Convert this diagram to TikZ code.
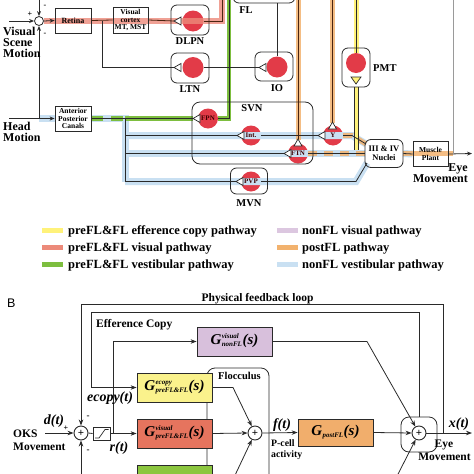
\documentclass[tikz,border=0pt]{standalone}
\usepackage{fontspec}
\setmainfont{Liberation Serif}
\setsansfont{Liberation Sans}
\usetikzlibrary{arrows.meta}
\definecolor{cRed}{HTML}{E23B48}
\definecolor{bRed}{HTML}{EC8A7A}
\definecolor{bGreen}{HTML}{7DBE3F}
\definecolor{bBlue}{HTML}{C9E0F2}
\definecolor{bOrange}{HTML}{F2B26E}
\definecolor{bYellow}{HTML}{FFF27A}
\definecolor{bLav}{HTML}{DCC7E0}
\definecolor{dk}{HTML}{2A2A2A}
\definecolor{brn}{HTML}{4A2410}
\definecolor{gry}{HTML}{9A9A9A}
\definecolor{fYel}{HTML}{FAF28C}
\definecolor{fRed}{HTML}{E6745E}
\definecolor{fGreen}{HTML}{8CC63F}
\definecolor{fLav}{HTML}{D8C0DC}
\definecolor{fOra}{HTML}{F1AE6C}
\pgfdeclarelayer{bg}
\pgfdeclarelayer{mid}
\pgfsetlayers{bg,mid,main}
\newcommand{\GG}[2]{\textbf{\textit{\fontsize{15}{15}\selectfont G}}\kern0.3pt\raisebox{-2pt}{\fontsize{7}{7}\selectfont\bfseries\itshape\begin{tabular}[b]{@{}l@{}}#1\\[1pt]#2\end{tabular}}\kern0.5pt\textbf{\textit{\fontsize{15}{15}\selectfont (s)}}}
\tikzset{
  ln/.style={draw=dk, line width=0.8pt},
  arrA/.style={ln, -{Stealth[length=5pt,width=4pt]}},
  boxA/.style={draw=dk, line width=0.8pt, inner sep=0pt, align=center, font=\fontsize{8}{8.3}\selectfont\bfseries},
  rboxA/.style={draw=dk, line width=0.8pt, rounded corners=6pt, inner sep=0pt},
  ncirc/.style={circle, fill=cRed, minimum size=20pt, inner sep=0pt},
  clbl/.style={font=\fontsize{7}{7}\selectfont\bfseries, text=black!75!red, inner sep=0pt},
  lblA/.style={font=\fontsize{10.5}{12}\selectfont\bfseries, inner sep=0pt, anchor=base},
  bigtxt/.style={font=\fontsize{12}{12}\selectfont\bfseries, inner sep=0pt, anchor=base west},
  syn/.style={draw=dk, line width=0.7pt, fill=white},
  bandR/.style={draw=bRed, line width=6pt, opacity=0.8},
  bandG/.style={draw=bGreen, line width=4.5pt},
  bandB/.style={draw=bBlue, line width=7pt},
  bandO/.style={draw=bOrange, line width=5pt, opacity=0.85},
  bandY/.style={draw=bYellow, line width=5pt},
  swatch/.style={minimum width=21pt, minimum height=5pt, inner sep=0pt},
  legtxt/.style={font=\fontsize{12.5}{13}\selectfont\bfseries, inner sep=0pt, anchor=base west},
  arrB/.style={ln, -{Stealth[length=6pt,width=4.5pt]}},
  gbox/.style={draw=dk, line width=0.8pt, inner sep=0pt, minimum width=75pt, minimum height=29pt},
  sumB/.style={circle, draw=dk, line width=0.9pt, fill=white, minimum size=14pt, inner sep=0pt, font=\fontsize{11}{11}\selectfont\bfseries},
  txtB/.style={font=\fontsize{11.5}{12}\selectfont\bfseries, inner sep=0pt},
  sigB/.style={font=\fontsize{14}{14}\selectfont\bfseries\itshape, inner sep=0pt, anchor=base},
  synL/.pic={\draw[syn] (0,0) -- (7,-4) -- (7,4) -- cycle;},
  synU/.pic={\draw[syn] (0,0) -- (-4,7) -- (4,7) -- cycle;}
}
\begin{document}
\begin{tikzpicture}[x=1pt,y=-1pt]
\useasboundingbox (0,0) rectangle (474,474);
\clip (0,0) rectangle (474,474);
% ================= PANEL A =================
\begin{pgfonlayer}{bg}
\node[ncirc, minimum size=21pt] (dlpn) at (193,21) {};
\node[ncirc, minimum size=21pt] (ltn) at (193,67.5) {};
\node[ncirc, minimum size=21pt] (io) at (277,67) {};
\node[ncirc] (pmt) at (356,63) {};
\node[ncirc] (fpn) at (208,118.5) {};
\node[ncirc] (int) at (251,135.5) {};
\node[ncirc] (ftn) at (298,153.5) {};
\node[ncirc] (yy) at (333,135.5) {};
\node[ncirc] (pvp) at (251,181.5) {};
\end{pgfonlayer}
% boxes
\node[rboxA, minimum width=62pt, minimum height=30pt] (fl) at (264,-12) {};
\node[rboxA, minimum width=38pt, minimum height=30pt] (dlpnbox) at (190,20) {};
\node[rboxA, minimum width=38pt, minimum height=30pt] (ltnbox) at (190,68) {};
\node[rboxA, minimum width=38pt, minimum height=29pt] (iobox) at (274,66.5) {};
\node[rboxA, minimum width=28pt, minimum height=39pt] (pmtbox) at (356,67.5) {};
\node[rboxA, minimum width=121pt, minimum height=62pt, rounded corners=8pt] (svn) at (252.5,133) {};
\node[rboxA, minimum width=37pt, minimum height=26pt] (pvpbox) at (249,181) {};
\node[boxA, minimum width=36pt, minimum height=25pt] (retina) at (73,20.5) {Retina};
\node[boxA, minimum width=35pt, minimum height=26pt, font=\fontsize{7.5}{7.8}\selectfont\bfseries] (vc) at (130.5,20) {Visual\\cortex\\MT, MST};
\node[boxA, minimum width=36pt, minimum height=25pt, font=\fontsize{7.5}{7.8}\selectfont\bfseries] (canals) at (73,118.5) {Anterior\\Posterior\\Canals};
\node[rboxA, minimum width=38pt, minimum height=28pt, align=center, font=\fontsize{8.5}{9}\selectfont\bfseries] (nuc) at (384,153.5) {III \& IV\\Nuclei};
\node[boxA, minimum width=35pt, minimum height=25pt, font=\fontsize{7.5}{8}\selectfont\bfseries] (muscle) at (430.5,154) {Muscle\\Plant};
\node[circle, draw=dk, line width=0.8pt, fill=white, minimum size=9pt, inner sep=0pt] (jA) at (39,21) {};
% named free ends
\coordinate (vsin) at (9,21);
\coordinate (topfb) at (39,-5);
\coordinate (hmin) at (9,118.5);
\coordinate (hmj) at (39,118.5);
\coordinate (eyeout) at (472,153.5);
% bands
\begin{pgfonlayer}{mid}
\draw[bandR] (jA.east) -- (222,21) -- (222,-5);
\draw[bandB] (hmj) -- (canals.west);
\draw[bandB] (canals.east) -- (125,118.5) -- (125,181.5);
\draw[bandB] (125,135.5) -- (352,135.5) -- (366,144);
\draw[bandB] (125,153.5) -- (nuc.west);
\draw[bandB] (125,181.5) -- (356,181.5) -- (367,163);
\draw[bandB] (nuc.east) -- (muscle.west);
\draw[bandG, dash pattern=on 12pt off 8pt] (canals.east) -- (125,118.5);
\draw[bandG] (125,118.5) -- (193,118.5);
\draw[bandG] (fpn.east) -- (229,118.5) -- (229,-5);
\draw[bandO] (298,-5) -- (298,140);
\draw[bandO] (332.5,-5) -- (332.5,123);
\draw[bandO, dash pattern=on 9pt off 7pt] (ftn.east) -- (nuc.west);
\draw[bandO, dash pattern=on 9pt off 7pt] (yy.east) -- (352,135.5) -- (366,144);
\draw[bandO] (nuc.east) -- (453,153.5);
\draw[bandY] (356,-5) -- (pmt.north);
\draw[bandY] (356,87) -- (356,150);
\end{pgfonlayer}
% dark lines
\draw[arrA] (vsin) -- (jA.west);
\draw[arrA] (topfb) -- (jA.north);
\draw[arrA] (hmin) -- (canals.west);
\draw[arrA] (hmj) -- (jA.south);
\draw[arrA] (jA.east) -- (retina.west);
\draw[ln, draw=brn] (retina.east) -- (vc.west);
\draw[ln, draw=brn] (vc.east) -- (174,21);
\draw[ln, draw=brn] (dlpn.east) -- (222,21) -- (222,-5);
\draw[ln] (102,21) -- (102,67.5) -- (174,67.5);
\draw[ln] (ltn.east) -- (259,67.5);
\draw[ln] (io.north) -- (fl.south -| io.north);
\draw[ln] (canals.east) -- (193,118.5);
\draw[ln] (fpn.east) -- (229,118.5) -- (229,-5);
\draw[ln] (125,118.5) -- (125,181.5);
\draw[ln] (125,135.5) -- (237,135.5);
\draw[ln] (int.east) -- (318,135.5);
\draw[ln] (yy.east) -- (352,135.5) -- (366,144);
\draw[ln] (125,153.5) -- (284,153.5);
\draw[ln] (ftn.east) -- (nuc.west);
\draw[ln] (125,181.5) -- (236,181.5);
\draw[ln] (pvp.east) -- (356,181.5) -- (367,163);
\draw[ln] (nuc.east) -- (muscle.west);
\draw[arrA] (muscle.east) -- (eyeout);
\draw[ln, draw=gry] (453,153.5) -- (453,-5);
\draw[ln, draw=brn] (298,-5) -- (298,139);
\draw[ln, draw=brn] (332.5,-5) -- (332.5,122);
\draw[line width=0.5pt, draw=dk] (356,-5) -- (pmt.north);
\draw[line width=0.6pt, draw=dk] (354,87) -- (354,150) (358,87) -- (358,150);
% synapse triangles
\pic at (174,21) {synL};
\pic at (174,67.5) {synL};
\pic at (259,67.5) {synL};
\pic at (193,118.5) {synL};
\pic at (237,135.5) {synL};
\pic at (318,135.5) {synL};
\pic at (284,153.5) {synL};
\pic at (236,181.5) {synL};
\pic at (298,139) {synU};
\pic at (332.5,122) {synU};
\draw[syn, fill=bYellow] (351,77) -- (361,77) -- (356,84) -- cycle;
% circle labels
\node[clbl] (fpnl) at (fpn) {FPN};
\node[clbl] (intl) at (int) {Int.};
\node[clbl] (ftnl) at (ftn) {FTN};
\node[clbl] (yyl) at (yy) {Y};
\node[clbl] (pvpl) at (pvp) {PVP};
% labels
\node[lblA] (ldlpn) at (190,44) {DLPN};
\node[lblA] (lltn) at (190,92) {LTN};
\node[lblA] (lio) at (277,91) {IO};
\node[lblA] (lfl) at (246,13.5) {FL};
\node[lblA, anchor=base west] (lpmt) at (373,71.5) {PMT};
\node[lblA] (lsvn) at (252,111) {SVN};
\node[lblA] (lmvn) at (249,206.5) {MVN};
\node[bigtxt] (v1) at (3,35) {Visual};
\node[bigtxt] (v2) at (3,46.5) {Scene};
\node[bigtxt] (v3) at (3,57.5) {Motion};
\node[bigtxt] (h1) at (3,130) {Head};
\node[bigtxt] (h2) at (3,141.5) {Motion};
\node[bigtxt, anchor=base east] (e1) at (468,171) {Eye};
\node[bigtxt, anchor=base east] (e2) at (468,182.5) {Movement};
\node[font=\fontsize{8}{8}\selectfont\bfseries, inner sep=0pt] (pA) at (30,14) {+};
\node[font=\fontsize{8}{8}\selectfont\bfseries, inner sep=0pt] (mA1) at (45,6) {-};
\node[font=\fontsize{8}{8}\selectfont\bfseries, inner sep=0pt] (mA2) at (45,34) {-};
% ================= LEGEND =================
\node[swatch, fill=bYellow] (sw1) at (52.5,230.5) {};
\node[swatch, fill=bRed] (sw2) at (52.5,247.5) {};
\node[swatch, fill=bGreen] (sw3) at (52.5,264.5) {};
\node[swatch, fill=bLav] (sw4) at (287.5,230.5) {};
\node[swatch, fill=bOrange] (sw5) at (287.5,247.5) {};
\node[swatch, fill=bBlue] (sw6) at (287.5,264.5) {};
\node[legtxt] (lg1) at (68,234) {preFL\&FL efference copy pathway};
\node[legtxt] (lg2) at (68,251) {preFL\&FL visual pathway};
\node[legtxt] (lg3) at (68,268) {preFL\&FL vestibular pathway};
\node[legtxt] (lg4) at (302,234) {nonFL visual pathway};
\node[legtxt] (lg5) at (302,251) {postFL pathway};
\node[legtxt] (lg6) at (302,268) {nonFL vestibular pathway};
% ================= PANEL B =================
\node[font=\sffamily\fontsize{12.5}{12.5}\selectfont, inner sep=0pt, anchor=base west] (Blbl) at (7,307) {B};
\node[txtB, anchor=base] (pfl) at (257.5,301) {Physical feedback loop};
\node[txtB, anchor=base west] (efc) at (96,327) {Efference Copy};
\node[rboxA, rounded corners=8pt, minimum width=62pt, minimum height=140pt] (floc) at (238,438) {};
\node[txtB, font=\fontsize{10.5}{11}\selectfont\bfseries, anchor=base west] (flocl) at (218,379) {Flocculus};
\node[gbox, fill=fLav] (gnon) at (234.5,341.5) {\GG{visual}{nonFL}};
\node[gbox, fill=fYel] (gec) at (174.5,387.5) {\GG{ecopy}{preFL\&FL}};
\node[gbox, fill=fRed] (gvis) at (174.5,433.5) {\GG{visual}{preFL\&FL}};
\node[gbox, fill=fGreen, minimum height=44pt] (gves) at (174.5,487) {\GG{vestibular}{preFL\&FL}};
\node[gbox, fill=fOra, minimum height=27pt] (gpost) at (335.5,432.5) {\GG{}{postFL}};
\node[rboxA, rounded corners=8pt, minimum width=36pt, minimum height=35pt] (eyebox) at (419,434.5) {};
\node[sumB] (s1) at (81,433) {+};
\node[sumB] (s2) at (255,433) {+};
\node[sumB] (s3) at (419,433) {+};
\node[draw=dk, line width=0.8pt, minimum width=17pt, minimum height=13pt, inner sep=0pt] (sat) at (101.5,433.5) {};
\draw[line width=0.7pt, draw=dk] (95,438) -- (99,438) -- (105,429.5) -- (108.5,429.5);
\coordinate (oksin) at (45,433);
\coordinate (s1bot) at (81,480);
\coordinate (s3bot) at (395,480);
\coordinate (rbr) at (113,433);
\coordinate (out) at (472,433);
\coordinate (gvesout) at (212,479.5);
\draw[arrB] (443,433) -- (443,304) -- (81,304) -- (s1.north);
\draw[arrB] (eyebox.north) -- (419,312) -- (91,312) |- (gec.west);
\draw[arrB] (oksin) -- (s1.west);
\draw[arrB] (s1bot) -- (s1.south);
\draw[ln] (s1.east) -- (sat.west);
\draw[arrB] (sat.east) -- (gvis.west);
\draw[arrB] (rbr) |- (gnon.west);
\draw[arrB] (gnon.east) -- (367,341.5) -- (s3);
\draw[arrB] (gec.east) -- (233,387.5) -- (s2);
\draw[arrB] (gvis.east) -- (s2.west);
\draw[arrB] (gvesout) -- (233,479.5) -- (s2);
\draw[arrB] (s2.east) -- (gpost.west);
\draw[arrB] (gpost.east) -- (s3.west);
\draw[arrB] (s3bot) -- (s3);
\draw[arrB] (s3.east) -- (out);
\node[sigB] (dl) at (54,424) {d(t)};
\node[sigB] (ecl) at (110,401) {ecopy(t)};
\node[sigB] (rl) at (119,451) {r(t)};
\node[sigB] (fl2) at (282,428) {f(t)};
\node[sigB] (xl) at (459,427) {x(t)};
\node[font=\fontsize{8}{8}\selectfont\bfseries, inner sep=0pt] (pB) at (66,428) {+};
\node[font=\fontsize{9}{9}\selectfont\bfseries, inner sep=0pt] (mB1) at (88,417) {-};
\node[font=\fontsize{9}{9}\selectfont\bfseries, inner sep=0pt] (mB2) at (88,451) {-};
\node[txtB, anchor=base west] (oks1) at (13,437) {OKS};
\node[txtB, anchor=base west] (oks2) at (13,450) {Movement};
\node[txtB, font=\fontsize{9.8}{10}\selectfont\bfseries, anchor=base west] (pc1) at (271,446) {P-cell};
\node[txtB, font=\fontsize{9.8}{10}\selectfont\bfseries, anchor=base west] (pc2) at (271,457) {activity};
\node[txtB, anchor=base] (eb1) at (444,447) {Eye};
\node[txtB, anchor=base] (eb2) at (444.5,460) {Movement};
\end{tikzpicture}
\end{document}
